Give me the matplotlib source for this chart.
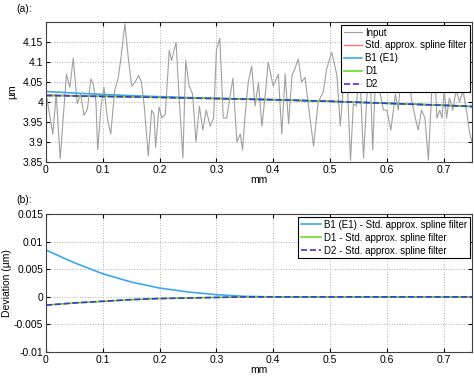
import numpy as np
import matplotlib
matplotlib.use('Agg')
import matplotlib.pyplot as plt

plt.rcParams['font.family'] = ['Liberation Sans', 'DejaVu Sans']
plt.rcParams['font.size'] = 8

# measured profile (mm, um)
in_x = [0.001, 0.012, 0.018, 0.025, 0.036, 0.042, 0.048, 0.055, 0.061, 0.067,
        0.073, 0.079, 0.083, 0.088, 0.091, 0.097, 0.102, 0.108, 0.114, 0.121,
        0.127, 0.131, 0.139, 0.145, 0.151, 0.157, 0.163, 0.168, 0.173, 0.180,
        0.186, 0.190, 0.193, 0.199, 0.204, 0.210, 0.217, 0.221, 0.229, 0.234,
        0.241, 0.246, 0.252, 0.258, 0.264, 0.270, 0.276, 0.282, 0.289, 0.295,
        0.300, 0.306, 0.312, 0.318, 0.329, 0.336, 0.342, 0.346, 0.350, 0.356,
        0.362, 0.368, 0.374, 0.380, 0.386, 0.391, 0.400, 0.409, 0.415, 0.421,
        0.427, 0.433, 0.438, 0.444, 0.450, 0.456, 0.462, 0.471, 0.479, 0.488,
        0.494, 0.503, 0.512, 0.518, 0.523, 0.529, 0.536, 0.541, 0.546, 0.552,
        0.559, 0.565, 0.570, 0.575, 0.580, 0.587, 0.594, 0.600, 0.607, 0.615,
        0.620, 0.626, 0.632, 0.638, 0.644, 0.655, 0.661, 0.667, 0.673, 0.679,
        0.684, 0.688, 0.693, 0.697, 0.701, 0.705, 0.710, 0.716, 0.722, 0.728,
        0.734, 0.741, 0.746, 0.750]
in_y = [4.015, 3.92, 4.02, 3.858, 4.07, 4.037, 4.11, 3.996, 4.02, 3.967,
        3.983, 4.058, 4.046, 4.0, 3.88, 3.99, 4.037, 3.96, 3.92, 4.03,
        4.06, 4.10, 4.196, 4.108, 4.04, 4.05, 4.067, 4.05, 3.99, 3.866,
        3.98, 3.97, 3.887, 3.988, 3.96, 3.97, 4.13, 4.104, 4.15, 4.02,
        3.86, 4.104, 4.04, 4.02, 3.90, 3.99, 3.93, 3.98, 3.94, 3.96,
        4.13, 4.16, 3.96, 3.96, 4.06, 3.90, 3.92, 3.88, 3.96, 4.05,
        4.09, 3.99, 4.05, 3.94, 4.02, 4.10, 4.04, 4.07, 3.92, 4.07,
        3.946, 4.067, 4.083, 4.108, 4.05, 4.062, 3.99, 3.89, 4.0, 4.025,
        4.083, 4.125, 4.067, 3.94, 4.03, 4.09, 3.854, 3.996, 3.99, 4.08,
        3.86, 4.02, 4.10, 3.88, 4.06, 4.03, 3.98, 3.98, 3.93, 4.02,
        3.98, 4.09, 4.03, 4.07, 4.00, 3.93, 3.98, 3.96, 3.855, 4.03,
        4.09, 3.96, 3.98, 3.96, 4.03, 3.96, 4.01, 3.98, 4.03, 4.0,
        4.03, 3.97, 3.92, 3.90]

# filter outputs
f_x = [0, 0.05, 0.1, 0.15, 0.2, 0.25, 0.3, 0.35, 0.4, 0.45, 0.5, 0.55, 0.6,
       0.65, 0.7, 0.75]
std_f = [4.018, 4.0165, 4.015, 4.0135, 4.012, 4.0105, 4.009, 4.0075, 4.006,
         4.004, 4.002, 3.9995, 3.997, 3.9945, 3.992, 3.989]
b1_dev = [0.0085, 0.0062, 0.0042, 0.0027, 0.0016, 0.0009, 0.0004, 0.0001,
          0, 0, 0, 0, 0, 0, 0, 0]
d1_dev = [-0.0015, -0.0011, -0.0008, -0.0005, -0.0003, -0.0002, -0.0001, 0,
          0, 0, 0, 0, 0, 0, 0, 0]
d2_dev = d1_dev

c_in = '#a0a0a0'
c_std = '#ff7070'
c_b1 = '#3aa8f0'
c_d1 = '#66dd22'
c_d2 = '#4433dd'


def style(ax):
    ax.grid(True, linestyle=':', color='#b0b0b0', linewidth=0.7)
    ax.tick_params(direction='in', top=True, right=True, length=3,
                   labelsize=7.5, pad=2)
    for s in ax.spines.values():
        s.set_color('#404040')
        s.set_linewidth(0.8)


fig = plt.figure(figsize=(4.74, 3.76), dpi=100)
ax1 = fig.add_axes([0.097, 0.569, 0.899, 0.372])
ax2 = fig.add_axes([0.097, 0.064, 0.899, 0.366])

std_a = np.array(std_f)
ax1.plot(in_x, in_y, color=c_in, lw=0.8, label='Input')
ax1.plot(f_x, std_a, color=c_std, lw=1.0, label='Std. approx. spline filter')
ax1.plot(f_x, std_a + np.array(b1_dev), color=c_b1, lw=1.2, label='B1 (E1)')
ax1.plot(f_x, std_a + np.array(d1_dev), color=c_d1, lw=1.2, label='D1')
ax1.plot(f_x, std_a + np.array(d2_dev), color=c_d2, lw=1.2, ls='--',
         label='D2')
ax1.set_xlim(0, 0.75)
ax1.set_ylim(3.85, 4.2)
ax1.set_xticks([0, 0.1, 0.2, 0.3, 0.4, 0.5, 0.6, 0.7])
ax1.set_xticklabels(['0', '0.1', '0.2', '0.3', '0.4', '0.5', '0.6', '0.7'])
ax1.set_yticks([3.85, 3.9, 3.95, 4, 4.05, 4.1, 4.15])
ax1.set_yticklabels(['3.85', '3.9', '3.95', '4', '4.05', '4.1', '4.15'])
ax1.set_xlabel('mm', fontsize=7.5, labelpad=0)
ax1.set_ylabel('\u00b5m', fontsize=7.5, labelpad=4)
style(ax1)
leg1 = ax1.legend(loc='upper right', fontsize=7, frameon=True, fancybox=False,
                  framealpha=1, edgecolor='black', borderaxespad=0.25,
                  handlelength=1.9, labelspacing=0.3, borderpad=0.3,
                  handletextpad=0.3)
leg1.get_frame().set_linewidth(0.8)

ax2.plot(f_x, b1_dev, color=c_b1, lw=1.2,
         label='B1 (E1) - Std. approx. spline filter')
ax2.plot(f_x, d1_dev, color=c_d1, lw=1.2,
         label='D1 - Std. approx. spline filter')
ax2.plot(f_x, d2_dev, color=c_d2, lw=1.2, ls='--',
         label='D2 - Std. approx. spline filter')
ax2.set_xlim(0, 0.75)
ax2.set_ylim(-0.01, 0.015)
ax2.set_xticks([0, 0.1, 0.2, 0.3, 0.4, 0.5, 0.6, 0.7])
ax2.set_xticklabels(['0', '0.1', '0.2', '0.3', '0.4', '0.5', '0.6', '0.7'])
ax2.set_yticks([-0.01, -0.005, 0, 0.005, 0.01, 0.015])
ax2.set_yticklabels(['-0.01', '-0.005', '0', '0.005', '0.01', '0.015'])
ax2.set_xlabel('mm', fontsize=7.5, labelpad=0)
ax2.set_ylabel('Deviation (\u00b5m)', fontsize=7.5, labelpad=1)
style(ax2)
leg2 = ax2.legend(loc='upper right', fontsize=7, frameon=True, fancybox=False,
                  framealpha=1, edgecolor='black', borderaxespad=0.25,
                  handlelength=2.0, labelspacing=0.3, borderpad=0.3,
                  handletextpad=0.3)
leg2.get_frame().set_linewidth(0.8)

fig.text(0.034, 0.977, '(a):', fontsize=7.5, va='center', ha='left')
fig.text(0.034, 0.468, '(b):', fontsize=7.5, va='center', ha='left')

fig.savefig('out.png', dpi=100)
